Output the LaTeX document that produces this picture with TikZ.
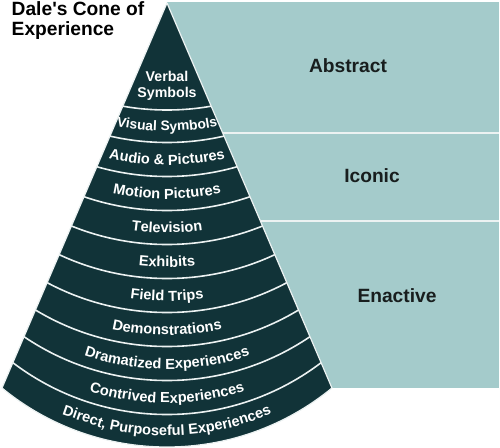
\documentclass[tikz,border=0pt]{standalone}
\usepackage{fontspec}
\newfontfamily\lab{Liberation Sans}
\usetikzlibrary{decorations.text}
\definecolor{conedark}{RGB}{17,51,56}
\definecolor{panelteal}{RGB}{164,203,203}
\definecolor{inkdark}{RGB}{24,30,30}
\definecolor{sepwhite}{RGB}{236,242,242}
\tikzset{
  sepline/.style={draw=sepwhite, line width=1.6pt},
  panellabel/.style={font=\lab\bfseries\fontsize{19.2}{20}\selectfont, text=inkdark, inner sep=0pt},
  titlestyle/.style={font=\lab\bfseries\fontsize{19.2}{20}\selectfont, text=black, inner sep=0pt, align=left},
  verbalstyle/.style={font=\lab\bfseries\fontsize{14.2}{16}\selectfont, text=white, inner sep=0pt, align=center},
}
\newcommand\conelabel[3]{%
  \path[decorate, decoration={text along path, text align=center,
      text={|\lab\bfseries\fontsize{#3}{#3}\selectfont\color{white}|#2}}]
    ([shift={(125:260)}]167,#1-260) arc[start angle=125, end angle=55, radius=260];}
\begin{document}
\begin{tikzpicture}[x=1pt,y=-1pt]
\useasboundingbox (0,0) rectangle (500,447);
% right panel
\fill[panelteal] (167,1.5) rectangle (499,388);
\draw[sepwhite, line width=1.6pt] (167,133) -- (499,133);
\draw[sepwhite, line width=1.6pt] (167,221) -- (499,221);
% cone
\fill[conedark] (167,3) -- (2,388) arc[start angle=129.35, end angle=50.65, radius=260.2] -- cycle;
\begin{scope}
  \clip (167,3) -- (2,388) arc[start angle=129.35, end angle=50.65, radius=260.2] -- cycle;
  \foreach \s in {110,142.5,176.5,210.5,244.5,278.5,312.5,346.5,380.5,414.5}
    \draw[sepline] (167,\s-255) circle[radius=255];
\end{scope}
\draw[sepwhite, line width=1.2pt, line join=round] (167,3) -- (2,388) arc[start angle=129.35, end angle=50.65, radius=260.2] -- cycle;
% texts
\node[titlestyle, anchor=north west] (title) at (11.5,1.7) {Dale's Cone of\\Experience};
\node[verbalstyle, anchor=north] (verbal) at (167,71.3) {Verbal\\Symbols};
\conelabel{131}{Visual Symbols}{13.8}
\conelabel{165}{Audio {\&} Pictures}{14.6}
\conelabel{199}{Motion Pictures}{14.6}
\conelabel{233}{Television}{14.6}
\conelabel{267}{Exhibits}{14.6}
\conelabel{301}{Field Trips}{14.6}
\conelabel{335}{Demonstrations}{14.6}
\conelabel{369}{Dramatized Experiences}{14.6}
\conelabel{403}{Contrived Experiences}{14.6}
\conelabel{435.5}{{Direct,} Purposeful Experiences}{14.6}
\node[panellabel] (abstract) at (348,66) {Abstract};
\node[panellabel] (iconic) at (372,176) {Iconic};
\node[panellabel] (enactive) at (397,295.4) {Enactive};
\end{tikzpicture}
\end{document}
